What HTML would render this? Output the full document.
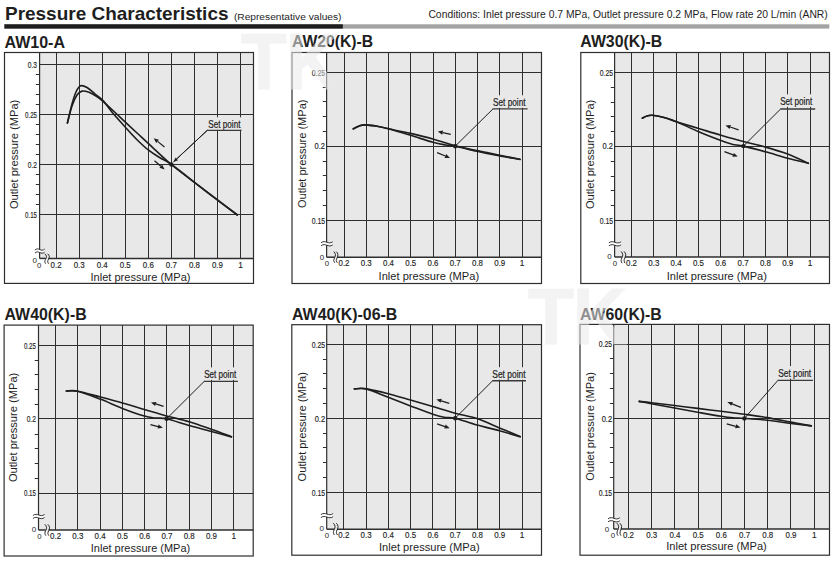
<!DOCTYPE html>
<html><head><meta charset="utf-8"><title>Pressure Characteristics</title>
<style>html,body{margin:0;padding:0;background:#fff;}svg{display:block;}text{font-family:"Liberation Sans", sans-serif;}</style>
</head><body>
<svg width="834" height="561" viewBox="0 0 834 561">
<text x="5" y="19.8" font-size="19" font-weight="bold" fill="#1e1e1e" textLength="223.5" lengthAdjust="spacingAndGlyphs">Pressure Characteristics</text>
<text x="233.9" y="19.8" font-size="9.7" fill="#1e1e1e" textLength="107.6" lengthAdjust="spacingAndGlyphs">(Representative values)</text>
<text x="428.4" y="17.7" font-size="10.35" fill="#1e1e1e" textLength="399.4" lengthAdjust="spacingAndGlyphs">Conditions: Inlet pressure 0.7 MPa, Outlet pressure 0.2 MPa, Flow rate 20 L/min (ANR)</text>
<rect x="342.9" y="24.3" width="486.4" height="4.3" fill="#a3a3a3"/>
<rect x="4.3" y="24.2" width="338.6" height="4.5" fill="#1e1e1e"/>
<text x="4.5" y="47.8" font-size="16" font-weight="bold" fill="#1e1e1e" textLength="60.5" lengthAdjust="spacingAndGlyphs">AW10-A</text>
<rect x="39.6" y="52.5" width="213.9" height="205.9" fill="#e8e8e8"/>
<line x1="56.5" y1="52.5" x2="56.5" y2="258.4" stroke="#2e2e2e" stroke-width="1.05"/>
<line x1="79.5" y1="52.5" x2="79.5" y2="258.4" stroke="#2e2e2e" stroke-width="1.05"/>
<line x1="102.5" y1="52.5" x2="102.5" y2="258.4" stroke="#2e2e2e" stroke-width="1.05"/>
<line x1="125.5" y1="52.5" x2="125.5" y2="258.4" stroke="#2e2e2e" stroke-width="1.05"/>
<line x1="148.5" y1="52.5" x2="148.5" y2="258.4" stroke="#2e2e2e" stroke-width="1.05"/>
<line x1="171.5" y1="52.5" x2="171.5" y2="258.4" stroke="#2e2e2e" stroke-width="1.05"/>
<line x1="194.5" y1="52.5" x2="194.5" y2="258.4" stroke="#2e2e2e" stroke-width="1.05"/>
<line x1="217.5" y1="52.5" x2="217.5" y2="258.4" stroke="#2e2e2e" stroke-width="1.05"/>
<line x1="240.5" y1="52.5" x2="240.5" y2="258.4" stroke="#2e2e2e" stroke-width="1.05"/>
<line x1="39.6" y1="214.5" x2="253.5" y2="214.5" stroke="#2e2e2e" stroke-width="1.05"/>
<line x1="39.6" y1="164.5" x2="253.5" y2="164.5" stroke="#2e2e2e" stroke-width="1.05"/>
<line x1="39.6" y1="114.5" x2="253.5" y2="114.5" stroke="#2e2e2e" stroke-width="1.05"/>
<line x1="39.6" y1="64.5" x2="253.5" y2="64.5" stroke="#2e2e2e" stroke-width="1.05"/>
<line x1="35.8" y1="204.5" x2="39.6" y2="204.5" stroke="#2e2e2e" stroke-width="1"/>
<line x1="35.8" y1="194.5" x2="39.6" y2="194.5" stroke="#2e2e2e" stroke-width="1"/>
<line x1="35.8" y1="184.5" x2="39.6" y2="184.5" stroke="#2e2e2e" stroke-width="1"/>
<line x1="35.8" y1="174.5" x2="39.6" y2="174.5" stroke="#2e2e2e" stroke-width="1"/>
<line x1="35.8" y1="154.5" x2="39.6" y2="154.5" stroke="#2e2e2e" stroke-width="1"/>
<line x1="35.8" y1="144.5" x2="39.6" y2="144.5" stroke="#2e2e2e" stroke-width="1"/>
<line x1="35.8" y1="134.5" x2="39.6" y2="134.5" stroke="#2e2e2e" stroke-width="1"/>
<line x1="35.8" y1="124.5" x2="39.6" y2="124.5" stroke="#2e2e2e" stroke-width="1"/>
<line x1="35.8" y1="104.5" x2="39.6" y2="104.5" stroke="#2e2e2e" stroke-width="1"/>
<line x1="35.8" y1="94.5" x2="39.6" y2="94.5" stroke="#2e2e2e" stroke-width="1"/>
<line x1="35.8" y1="84.5" x2="39.6" y2="84.5" stroke="#2e2e2e" stroke-width="1"/>
<line x1="35.8" y1="74.5" x2="39.6" y2="74.5" stroke="#2e2e2e" stroke-width="1"/>
<text x="25" y="217.9" font-size="8.2" fill="#1e1e1e" stroke="#1e1e1e" stroke-width="0.15" textLength="12" lengthAdjust="spacingAndGlyphs">0.15</text>
<text x="27.8" y="167.7" font-size="8.2" fill="#1e1e1e" stroke="#1e1e1e" stroke-width="0.15" textLength="9.2" lengthAdjust="spacingAndGlyphs">0.2</text>
<text x="25" y="117.7" font-size="8.2" fill="#1e1e1e" stroke="#1e1e1e" stroke-width="0.15" textLength="12" lengthAdjust="spacingAndGlyphs">0.25</text>
<text x="27.8" y="67.8" font-size="8.2" fill="#1e1e1e" stroke="#1e1e1e" stroke-width="0.15" textLength="9.2" lengthAdjust="spacingAndGlyphs">0.3</text>
<line x1="39.6" y1="52.5" x2="39.6" y2="249.55" stroke="#2e2e2e" stroke-width="1.2"/>
<line x1="39.6" y1="252.55" x2="39.6" y2="258.4" stroke="#2e2e2e" stroke-width="1.2"/>
<rect x="34.9" y="249.85" width="9.8" height="2.4" fill="#fff"/>
<path d="M34.9,250.05 C36.86,248.25 38.33,248.95 39.8,249.55 S42.74,250.85 44.7,249.05" fill="none" stroke="#1e1e1e" stroke-width="0.9"/>
<path d="M34.9,253.05 C36.86,251.25 38.33,251.95 39.8,252.55 S42.74,253.85 44.7,252.05" fill="none" stroke="#1e1e1e" stroke-width="0.9"/>
<line x1="39.6" y1="258.4" x2="45.6" y2="258.4" stroke="#2e2e2e" stroke-width="1.5"/>
<line x1="48.5" y1="258.4" x2="253.5" y2="258.4" stroke="#2e2e2e" stroke-width="1.5"/>
<rect x="46.2" y="257.4" width="1.7" height="2" fill="#e8e8e8"/>
<path d="M44.7,253.8 C46.9,255.53 46.8,257.26 45.6,259.25 S44.6,262.21 45.8,263.7" fill="none" stroke="#1e1e1e" stroke-width="0.95"/>
<path d="M47.6,253.8 C49.8,255.53 49.7,257.26 48.5,259.25 S47.5,262.21 48.7,263.7" fill="none" stroke="#1e1e1e" stroke-width="0.95"/>
<text x="34.7" y="262.8" font-size="8" text-anchor="middle" fill="#1e1e1e">0</text>
<text x="39.1" y="267.7" font-size="7.8" text-anchor="middle" fill="#1e1e1e">0</text>
<text x="50.6" y="267.8" font-size="8.3" fill="#1e1e1e" stroke="#1e1e1e" stroke-width="0.15" textLength="11" lengthAdjust="spacingAndGlyphs">0.2</text>
<text x="73.65" y="267.8" font-size="8.3" fill="#1e1e1e" stroke="#1e1e1e" stroke-width="0.15" textLength="11" lengthAdjust="spacingAndGlyphs">0.3</text>
<text x="96.7" y="267.8" font-size="8.3" fill="#1e1e1e" stroke="#1e1e1e" stroke-width="0.15" textLength="11" lengthAdjust="spacingAndGlyphs">0.4</text>
<text x="119.75" y="267.8" font-size="8.3" fill="#1e1e1e" stroke="#1e1e1e" stroke-width="0.15" textLength="11" lengthAdjust="spacingAndGlyphs">0.5</text>
<text x="142.8" y="267.8" font-size="8.3" fill="#1e1e1e" stroke="#1e1e1e" stroke-width="0.15" textLength="11" lengthAdjust="spacingAndGlyphs">0.6</text>
<text x="165.85" y="267.8" font-size="8.3" fill="#1e1e1e" stroke="#1e1e1e" stroke-width="0.15" textLength="11" lengthAdjust="spacingAndGlyphs">0.7</text>
<text x="188.9" y="267.8" font-size="8.3" fill="#1e1e1e" stroke="#1e1e1e" stroke-width="0.15" textLength="11" lengthAdjust="spacingAndGlyphs">0.8</text>
<text x="211.95" y="267.8" font-size="8.3" fill="#1e1e1e" stroke="#1e1e1e" stroke-width="0.15" textLength="11" lengthAdjust="spacingAndGlyphs">0.9</text>
<text x="240.5" y="267.8" font-size="8.3" text-anchor="middle" fill="#1e1e1e" stroke="#1e1e1e" stroke-width="0.15">1</text>
<text x="90.5" y="280.8" font-size="10.6" fill="#1e1e1e" textLength="100" lengthAdjust="spacingAndGlyphs">Inlet pressure (MPa)</text>
<text transform="translate(17.6,154.4) rotate(-90)" x="0" y="0" font-size="10.6" text-anchor="middle" fill="#1e1e1e" textLength="109.4" lengthAdjust="spacingAndGlyphs">Outlet pressure (MPa)</text>
<rect x="4.5" y="52.5" width="249" height="230.9" fill="none" stroke="#2e2e2e" stroke-width="1.2"/>
<rect x="207" y="117.3" width="34.7" height="12.5" fill="#e8e8e8"/>
<text x="208.2" y="127.8" font-size="10.6" fill="#1e1e1e" stroke="#1e1e1e" stroke-width="0.22" textLength="32.3" lengthAdjust="spacingAndGlyphs">Set point</text>
<line x1="173.4" y1="162" x2="207.2" y2="130.4" stroke="#1e1e1e" stroke-width="1"/>
<line x1="206.9" y1="130.4" x2="241.5" y2="130.4" stroke="#3a3a3a" stroke-width="1.4"/>
<line x1="207.2" y1="130.4" x2="176.76" y2="158.86" stroke="#1e1e1e" stroke-width="1.0"/><path d="M173.4,162 L175.53,157.54 L177.99,160.17Z" fill="#1e1e1e"/>
<path d="M67.4,123 C68.17,119.83 70.57,109.17 72,104 C73.43,98.83 74.57,95.03 76,92 C77.43,88.97 78.77,86.55 80.6,85.8 C82.43,85.05 84.6,86.13 87,87.5 C89.4,88.87 92.33,91.82 95,94 C97.67,96.18 99.97,97.33 103,100.6 C106.03,103.87 109.62,109.32 113.2,113.6 C116.78,117.88 120.62,122.03 124.5,126.3 C128.38,130.57 132.48,135.22 136.5,139.2 C140.52,143.18 144.68,147.1 148.6,150.2 C152.52,153.3 156.2,155.42 160,157.8 C163.8,160.18 164.07,159.2 171.4,164.5 C178.73,169.8 193.02,181.18 204,189.6 C214.98,198.02 231.75,210.77 237.3,215" fill="none" stroke="#1e1e1e" stroke-width="1.6" stroke-linejoin="round" stroke-linecap="round"/>
<path d="M67.4,123 C68.17,120.17 70.4,110.67 72,106 C73.6,101.33 75.33,97.48 77,95 C78.67,92.52 80,91.55 82,91.1 C84,90.65 86.67,91.48 89,92.3 C91.33,93.12 93.67,94.5 96,96 C98.33,97.5 99,97.78 103,101.3 C107,104.82 114.33,111.82 120,117.1 C125.67,122.38 131.33,127.72 137,133 C142.67,138.28 148.27,143.55 154,148.8 C159.73,154.05 163.07,157.65 171.4,164.5 C179.73,171.35 193.02,181.48 204,189.9 C214.98,198.32 231.75,210.82 237.3,215" fill="none" stroke="#1e1e1e" stroke-width="1.6" stroke-linejoin="round" stroke-linecap="round"/>
<circle cx="171.3" cy="164.4" r="2.2" fill="#1e1e1e"/>
<line x1="164.5" y1="147.1" x2="157.56" y2="141.38" stroke="#1e1e1e" stroke-width="1.25"/><path d="M153.7,138.2 L158.89,139.76 L156.22,143Z" fill="#1e1e1e"/>
<line x1="154.5" y1="160.7" x2="160.85" y2="166.29" stroke="#1e1e1e" stroke-width="1.25"/><path d="M164.6,169.6 L159.46,167.87 L162.24,164.72Z" fill="#1e1e1e"/>
<text x="292" y="47.3" font-size="16" font-weight="bold" fill="#1e1e1e" textLength="81.1" lengthAdjust="spacingAndGlyphs">AW20(K)-B</text>
<rect x="326.6" y="52.5" width="214.9" height="204.7" fill="#e8e8e8"/>
<line x1="344.5" y1="52.5" x2="344.5" y2="257.2" stroke="#2e2e2e" stroke-width="1.05"/>
<line x1="366.5" y1="52.5" x2="366.5" y2="257.2" stroke="#2e2e2e" stroke-width="1.05"/>
<line x1="388.5" y1="52.5" x2="388.5" y2="257.2" stroke="#2e2e2e" stroke-width="1.05"/>
<line x1="410.5" y1="52.5" x2="410.5" y2="257.2" stroke="#2e2e2e" stroke-width="1.05"/>
<line x1="433.5" y1="52.5" x2="433.5" y2="257.2" stroke="#2e2e2e" stroke-width="1.05"/>
<line x1="455.5" y1="52.5" x2="455.5" y2="257.2" stroke="#2e2e2e" stroke-width="1.05"/>
<line x1="477.5" y1="52.5" x2="477.5" y2="257.2" stroke="#2e2e2e" stroke-width="1.05"/>
<line x1="499.5" y1="52.5" x2="499.5" y2="257.2" stroke="#2e2e2e" stroke-width="1.05"/>
<line x1="522.5" y1="52.5" x2="522.5" y2="257.2" stroke="#2e2e2e" stroke-width="1.05"/>
<line x1="326.6" y1="220.5" x2="541.5" y2="220.5" stroke="#2e2e2e" stroke-width="1.05"/>
<line x1="326.6" y1="146.5" x2="541.5" y2="146.5" stroke="#2e2e2e" stroke-width="1.05"/>
<line x1="326.6" y1="72.5" x2="541.5" y2="72.5" stroke="#2e2e2e" stroke-width="1.05"/>
<line x1="322.8" y1="205.5" x2="326.6" y2="205.5" stroke="#2e2e2e" stroke-width="1"/>
<line x1="322.8" y1="190.5" x2="326.6" y2="190.5" stroke="#2e2e2e" stroke-width="1"/>
<line x1="322.8" y1="175.5" x2="326.6" y2="175.5" stroke="#2e2e2e" stroke-width="1"/>
<line x1="322.8" y1="161.5" x2="326.6" y2="161.5" stroke="#2e2e2e" stroke-width="1"/>
<line x1="322.8" y1="131.5" x2="326.6" y2="131.5" stroke="#2e2e2e" stroke-width="1"/>
<line x1="322.8" y1="116.5" x2="326.6" y2="116.5" stroke="#2e2e2e" stroke-width="1"/>
<line x1="322.8" y1="101.5" x2="326.6" y2="101.5" stroke="#2e2e2e" stroke-width="1"/>
<line x1="322.8" y1="87.5" x2="326.6" y2="87.5" stroke="#2e2e2e" stroke-width="1"/>
<text x="311.7" y="223.5" font-size="8.2" fill="#1e1e1e" stroke="#1e1e1e" stroke-width="0.15" textLength="13.3" lengthAdjust="spacingAndGlyphs">0.15</text>
<text x="314.6" y="149.4" font-size="8.2" fill="#1e1e1e" stroke="#1e1e1e" stroke-width="0.15" textLength="10.4" lengthAdjust="spacingAndGlyphs">0.2</text>
<text x="311.7" y="75.6" font-size="8.2" fill="#1e1e1e" stroke="#1e1e1e" stroke-width="0.15" textLength="13.3" lengthAdjust="spacingAndGlyphs">0.25</text>
<line x1="326.6" y1="52.5" x2="326.6" y2="242.25" stroke="#2e2e2e" stroke-width="1.2"/>
<line x1="326.6" y1="245.25" x2="326.6" y2="257.2" stroke="#2e2e2e" stroke-width="1.2"/>
<rect x="321.1" y="242.55" width="11.7" height="2.4" fill="#fff"/>
<path d="M321.1,242.75 C323.44,240.95 325.19,241.65 326.95,242.25 S330.46,243.55 332.8,241.75" fill="none" stroke="#1e1e1e" stroke-width="0.9"/>
<path d="M321.1,245.75 C323.44,243.95 325.19,244.65 326.95,245.25 S330.46,246.55 332.8,244.75" fill="none" stroke="#1e1e1e" stroke-width="0.9"/>
<line x1="326.6" y1="257.2" x2="334.6" y2="257.2" stroke="#2e2e2e" stroke-width="1.5"/>
<line x1="337.1" y1="257.2" x2="541.5" y2="257.2" stroke="#2e2e2e" stroke-width="1.5"/>
<rect x="335.2" y="256.2" width="1.3" height="2" fill="#e8e8e8"/>
<path d="M333.7,251.6 C335.9,253.56 335.8,255.52 334.6,257.76 S333.6,261.12 334.8,262.8" fill="none" stroke="#1e1e1e" stroke-width="0.95"/>
<path d="M336.2,251.6 C338.4,253.56 338.3,255.52 337.1,257.76 S336.1,261.12 337.3,262.8" fill="none" stroke="#1e1e1e" stroke-width="0.95"/>
<text x="321.9" y="259.7" font-size="8" text-anchor="middle" fill="#1e1e1e">0</text>
<text x="326.9" y="265.6" font-size="7.8" text-anchor="middle" fill="#1e1e1e">0</text>
<text x="338.5" y="265.6" font-size="8.3" fill="#1e1e1e" stroke="#1e1e1e" stroke-width="0.15" textLength="11" lengthAdjust="spacingAndGlyphs">0.2</text>
<text x="360.75" y="265.6" font-size="8.3" fill="#1e1e1e" stroke="#1e1e1e" stroke-width="0.15" textLength="11" lengthAdjust="spacingAndGlyphs">0.3</text>
<text x="383" y="265.6" font-size="8.3" fill="#1e1e1e" stroke="#1e1e1e" stroke-width="0.15" textLength="11" lengthAdjust="spacingAndGlyphs">0.4</text>
<text x="405.25" y="265.6" font-size="8.3" fill="#1e1e1e" stroke="#1e1e1e" stroke-width="0.15" textLength="11" lengthAdjust="spacingAndGlyphs">0.5</text>
<text x="427.5" y="265.6" font-size="8.3" fill="#1e1e1e" stroke="#1e1e1e" stroke-width="0.15" textLength="11" lengthAdjust="spacingAndGlyphs">0.6</text>
<text x="449.75" y="265.6" font-size="8.3" fill="#1e1e1e" stroke="#1e1e1e" stroke-width="0.15" textLength="11" lengthAdjust="spacingAndGlyphs">0.7</text>
<text x="472" y="265.6" font-size="8.3" fill="#1e1e1e" stroke="#1e1e1e" stroke-width="0.15" textLength="11" lengthAdjust="spacingAndGlyphs">0.8</text>
<text x="494.25" y="265.6" font-size="8.3" fill="#1e1e1e" stroke="#1e1e1e" stroke-width="0.15" textLength="11" lengthAdjust="spacingAndGlyphs">0.9</text>
<text x="522" y="265.6" font-size="8.3" text-anchor="middle" fill="#1e1e1e" stroke="#1e1e1e" stroke-width="0.15">1</text>
<text x="378.6" y="279.5" font-size="10.6" fill="#1e1e1e" textLength="100.5" lengthAdjust="spacingAndGlyphs">Inlet pressure (MPa)</text>
<text transform="translate(306,153.8) rotate(-90)" x="0" y="0" font-size="10.6" text-anchor="middle" fill="#1e1e1e" textLength="108.6" lengthAdjust="spacingAndGlyphs">Outlet pressure (MPa)</text>
<rect x="292" y="52.5" width="249.5" height="231" fill="none" stroke="#2e2e2e" stroke-width="1.2"/>
<rect x="491.8" y="95.3" width="35" height="12.5" fill="#e8e8e8"/>
<text x="493" y="105.8" font-size="10.6" fill="#1e1e1e" stroke="#1e1e1e" stroke-width="0.22" textLength="32.6" lengthAdjust="spacingAndGlyphs">Set point</text>
<line x1="455.2" y1="146.2" x2="493" y2="108.9" stroke="#1e1e1e" stroke-width="1"/>
<line x1="492.7" y1="108.9" x2="527.6" y2="108.9" stroke="#3a3a3a" stroke-width="1.4"/>
<path d="M353.2,128.9 C354.23,128.4 357.35,126.57 359.4,125.9 C361.45,125.23 362.57,124.83 365.5,124.9 C368.43,124.97 373.17,125.65 377,126.3 C380.83,126.95 382.92,127.62 388.5,128.8 C394.08,129.98 403.12,131.72 410.5,133.4 C417.88,135.08 425.35,136.85 432.8,138.9 C440.25,140.95 446.17,143.42 455.2,145.7 C464.23,147.98 476.2,150.33 487,152.6 C497.8,154.87 514.5,158.18 520,159.3" fill="none" stroke="#1e1e1e" stroke-width="1.6" stroke-linejoin="round" stroke-linecap="round"/>
<path d="M353.2,128.9 C354.23,128.4 357.35,126.57 359.4,125.9 C361.45,125.23 362.57,124.83 365.5,124.9 C368.43,124.97 373.17,125.65 377,126.3 C380.83,126.95 382.92,127.3 388.5,128.8 C394.08,130.3 403.12,133.05 410.5,135.3 C417.88,137.55 426.93,140.68 432.8,142.3 C438.67,143.92 441.97,144.33 445.7,145 C449.43,145.67 448.32,144.9 455.2,146.3 C462.08,147.7 476.2,151.2 487,153.4 C497.8,155.6 514.5,158.48 520,159.5" fill="none" stroke="#1e1e1e" stroke-width="1.6" stroke-linejoin="round" stroke-linecap="round"/>
<circle cx="455.2" cy="146.2" r="2.2" fill="#1e1e1e"/>
<line x1="450.8" y1="134.4" x2="442.68" y2="132.59" stroke="#1e1e1e" stroke-width="1.25"/><path d="M437.8,131.5 L443.14,130.54 L442.22,134.64Z" fill="#1e1e1e"/>
<line x1="437.1" y1="152.7" x2="445.36" y2="156.03" stroke="#1e1e1e" stroke-width="1.25"/><path d="M450,157.9 L444.58,157.98 L446.15,154.08Z" fill="#1e1e1e"/>
<text x="580.3" y="47.4" font-size="16" font-weight="bold" fill="#1e1e1e" textLength="82" lengthAdjust="spacingAndGlyphs">AW30(K)-B</text>
<rect x="614.6" y="52.5" width="214.9" height="204.5" fill="#e8e8e8"/>
<line x1="631.5" y1="52.5" x2="631.5" y2="257" stroke="#2e2e2e" stroke-width="1.05"/>
<line x1="653.5" y1="52.5" x2="653.5" y2="257" stroke="#2e2e2e" stroke-width="1.05"/>
<line x1="676.5" y1="52.5" x2="676.5" y2="257" stroke="#2e2e2e" stroke-width="1.05"/>
<line x1="698.5" y1="52.5" x2="698.5" y2="257" stroke="#2e2e2e" stroke-width="1.05"/>
<line x1="720.5" y1="52.5" x2="720.5" y2="257" stroke="#2e2e2e" stroke-width="1.05"/>
<line x1="743.5" y1="52.5" x2="743.5" y2="257" stroke="#2e2e2e" stroke-width="1.05"/>
<line x1="765.5" y1="52.5" x2="765.5" y2="257" stroke="#2e2e2e" stroke-width="1.05"/>
<line x1="787.5" y1="52.5" x2="787.5" y2="257" stroke="#2e2e2e" stroke-width="1.05"/>
<line x1="810.5" y1="52.5" x2="810.5" y2="257" stroke="#2e2e2e" stroke-width="1.05"/>
<line x1="614.6" y1="220.5" x2="829.5" y2="220.5" stroke="#2e2e2e" stroke-width="1.05"/>
<line x1="614.6" y1="146.5" x2="829.5" y2="146.5" stroke="#2e2e2e" stroke-width="1.05"/>
<line x1="614.6" y1="72.5" x2="829.5" y2="72.5" stroke="#2e2e2e" stroke-width="1.05"/>
<line x1="610.8" y1="205.5" x2="614.6" y2="205.5" stroke="#2e2e2e" stroke-width="1"/>
<line x1="610.8" y1="190.5" x2="614.6" y2="190.5" stroke="#2e2e2e" stroke-width="1"/>
<line x1="610.8" y1="176.5" x2="614.6" y2="176.5" stroke="#2e2e2e" stroke-width="1"/>
<line x1="610.8" y1="161.5" x2="614.6" y2="161.5" stroke="#2e2e2e" stroke-width="1"/>
<line x1="610.8" y1="131.5" x2="614.6" y2="131.5" stroke="#2e2e2e" stroke-width="1"/>
<line x1="610.8" y1="116.5" x2="614.6" y2="116.5" stroke="#2e2e2e" stroke-width="1"/>
<line x1="610.8" y1="102.5" x2="614.6" y2="102.5" stroke="#2e2e2e" stroke-width="1"/>
<line x1="610.8" y1="87.5" x2="614.6" y2="87.5" stroke="#2e2e2e" stroke-width="1"/>
<text x="599.7" y="223.7" font-size="8.2" fill="#1e1e1e" stroke="#1e1e1e" stroke-width="0.15" textLength="13.3" lengthAdjust="spacingAndGlyphs">0.15</text>
<text x="602.6" y="149.3" font-size="8.2" fill="#1e1e1e" stroke="#1e1e1e" stroke-width="0.15" textLength="10.4" lengthAdjust="spacingAndGlyphs">0.2</text>
<text x="599.7" y="75.7" font-size="8.2" fill="#1e1e1e" stroke="#1e1e1e" stroke-width="0.15" textLength="13.3" lengthAdjust="spacingAndGlyphs">0.25</text>
<line x1="614.6" y1="52.5" x2="614.6" y2="242.3" stroke="#2e2e2e" stroke-width="1.2"/>
<line x1="614.6" y1="245.3" x2="614.6" y2="257" stroke="#2e2e2e" stroke-width="1.2"/>
<rect x="608.9" y="242.6" width="12.2" height="2.4" fill="#fff"/>
<path d="M608.9,242.8 C611.34,241 613.17,241.7 615,242.3 S618.66,243.6 621.1,241.8" fill="none" stroke="#1e1e1e" stroke-width="0.9"/>
<path d="M608.9,245.8 C611.34,244 613.17,244.7 615,245.3 S618.66,246.6 621.1,244.8" fill="none" stroke="#1e1e1e" stroke-width="0.9"/>
<line x1="614.6" y1="257" x2="621.9" y2="257" stroke="#2e2e2e" stroke-width="1.5"/>
<line x1="624.9" y1="257" x2="829.5" y2="257" stroke="#2e2e2e" stroke-width="1.5"/>
<rect x="622.5" y="256" width="1.8" height="2" fill="#e8e8e8"/>
<path d="M621,251.4 C623.2,253.47 623.1,255.53 621.9,257.89 S620.9,261.43 622.1,263.2" fill="none" stroke="#1e1e1e" stroke-width="0.95"/>
<path d="M624,251.4 C626.2,253.47 626.1,255.53 624.9,257.89 S623.9,261.43 625.1,263.2" fill="none" stroke="#1e1e1e" stroke-width="0.95"/>
<text x="609.6" y="259.3" font-size="8" text-anchor="middle" fill="#1e1e1e">0</text>
<text x="615" y="265.7" font-size="7.8" text-anchor="middle" fill="#1e1e1e">0</text>
<text x="626" y="265.7" font-size="8.3" fill="#1e1e1e" stroke="#1e1e1e" stroke-width="0.15" textLength="11" lengthAdjust="spacingAndGlyphs">0.2</text>
<text x="648.31" y="265.7" font-size="8.3" fill="#1e1e1e" stroke="#1e1e1e" stroke-width="0.15" textLength="11" lengthAdjust="spacingAndGlyphs">0.3</text>
<text x="670.62" y="265.7" font-size="8.3" fill="#1e1e1e" stroke="#1e1e1e" stroke-width="0.15" textLength="11" lengthAdjust="spacingAndGlyphs">0.4</text>
<text x="692.94" y="265.7" font-size="8.3" fill="#1e1e1e" stroke="#1e1e1e" stroke-width="0.15" textLength="11" lengthAdjust="spacingAndGlyphs">0.5</text>
<text x="715.25" y="265.7" font-size="8.3" fill="#1e1e1e" stroke="#1e1e1e" stroke-width="0.15" textLength="11" lengthAdjust="spacingAndGlyphs">0.6</text>
<text x="737.56" y="265.7" font-size="8.3" fill="#1e1e1e" stroke="#1e1e1e" stroke-width="0.15" textLength="11" lengthAdjust="spacingAndGlyphs">0.7</text>
<text x="759.88" y="265.7" font-size="8.3" fill="#1e1e1e" stroke="#1e1e1e" stroke-width="0.15" textLength="11" lengthAdjust="spacingAndGlyphs">0.8</text>
<text x="782.19" y="265.7" font-size="8.3" fill="#1e1e1e" stroke="#1e1e1e" stroke-width="0.15" textLength="11" lengthAdjust="spacingAndGlyphs">0.9</text>
<text x="810" y="265.7" font-size="8.3" text-anchor="middle" fill="#1e1e1e" stroke="#1e1e1e" stroke-width="0.15">1</text>
<text x="666.8" y="279.5" font-size="10.6" fill="#1e1e1e" textLength="100.1" lengthAdjust="spacingAndGlyphs">Inlet pressure (MPa)</text>
<text transform="translate(594.3,154.4) rotate(-90)" x="0" y="0" font-size="10.6" text-anchor="middle" fill="#1e1e1e" textLength="109.4" lengthAdjust="spacingAndGlyphs">Outlet pressure (MPa)</text>
<rect x="580.8" y="52.5" width="248.7" height="231" fill="none" stroke="#2e2e2e" stroke-width="1.2"/>
<rect x="779" y="94.3" width="34.4" height="12.5" fill="#e8e8e8"/>
<text x="780.2" y="104.8" font-size="10.6" fill="#1e1e1e" stroke="#1e1e1e" stroke-width="0.22" textLength="32" lengthAdjust="spacingAndGlyphs">Set point</text>
<line x1="743.4" y1="146.1" x2="780.6" y2="109" stroke="#1e1e1e" stroke-width="1"/>
<line x1="780.3" y1="109" x2="815.2" y2="109" stroke="#3a3a3a" stroke-width="1.4"/>
<path d="M642.3,118.2 C643.08,117.83 645.35,116.48 647,116 C648.65,115.52 649.37,115.03 652.2,115.3 C655.03,115.57 659.87,116.5 664,117.6 C668.13,118.7 671.22,120.08 677,121.9 C682.78,123.72 691.37,126.27 698.7,128.5 C706.03,130.73 713.55,133.12 721,135.3 C728.45,137.48 736.27,139.72 743.4,141.6 C750.53,143.48 756.42,144.53 763.8,146.6 C771.18,148.67 780.28,151.22 787.7,154 C795.12,156.78 804.87,161.75 808.3,163.3" fill="none" stroke="#1e1e1e" stroke-width="1.6" stroke-linejoin="round" stroke-linecap="round"/>
<path d="M642.3,118.2 C643.08,117.83 645.35,116.48 647,116 C648.65,115.52 649.37,115.03 652.2,115.3 C655.03,115.57 659.87,116.5 664,117.6 C668.13,118.7 671.22,119.53 677,121.9 C682.78,124.27 691.37,128.68 698.7,131.8 C706.03,134.92 715.45,138.53 721,140.6 C726.55,142.67 728.27,143.28 732,144.2 C735.73,145.12 737.82,144.83 743.4,146.1 C748.98,147.37 758.12,149.78 765.5,151.8 C772.88,153.82 780.57,156.28 787.7,158.2 C794.83,160.12 804.87,162.45 808.3,163.3" fill="none" stroke="#1e1e1e" stroke-width="1.6" stroke-linejoin="round" stroke-linecap="round"/>
<circle cx="743.4" cy="146.1" r="2.2" fill="#1e1e1e"/>
<line x1="738.6" y1="129.9" x2="730.23" y2="127.02" stroke="#1e1e1e" stroke-width="1.25"/><path d="M725.5,125.4 L730.91,125.04 L729.55,129.01Z" fill="#1e1e1e"/>
<line x1="724.4" y1="151.6" x2="733.12" y2="154.85" stroke="#1e1e1e" stroke-width="1.25"/><path d="M737.8,156.6 L732.38,156.82 L733.85,152.88Z" fill="#1e1e1e"/>
<text x="4.5" y="319.7" font-size="16" font-weight="bold" fill="#1e1e1e" textLength="82.2" lengthAdjust="spacingAndGlyphs">AW40(K)-B</text>
<rect x="38.5" y="325.1" width="214.7" height="204.9" fill="#e8e8e8"/>
<line x1="55.5" y1="325.1" x2="55.5" y2="530" stroke="#2e2e2e" stroke-width="1.05"/>
<line x1="77.5" y1="325.1" x2="77.5" y2="530" stroke="#2e2e2e" stroke-width="1.05"/>
<line x1="100.5" y1="325.1" x2="100.5" y2="530" stroke="#2e2e2e" stroke-width="1.05"/>
<line x1="122.5" y1="325.1" x2="122.5" y2="530" stroke="#2e2e2e" stroke-width="1.05"/>
<line x1="144.5" y1="325.1" x2="144.5" y2="530" stroke="#2e2e2e" stroke-width="1.05"/>
<line x1="166.5" y1="325.1" x2="166.5" y2="530" stroke="#2e2e2e" stroke-width="1.05"/>
<line x1="189.5" y1="325.1" x2="189.5" y2="530" stroke="#2e2e2e" stroke-width="1.05"/>
<line x1="211.5" y1="325.1" x2="211.5" y2="530" stroke="#2e2e2e" stroke-width="1.05"/>
<line x1="233.5" y1="325.1" x2="233.5" y2="530" stroke="#2e2e2e" stroke-width="1.05"/>
<line x1="38.5" y1="493.5" x2="253.2" y2="493.5" stroke="#2e2e2e" stroke-width="1.05"/>
<line x1="38.5" y1="418.5" x2="253.2" y2="418.5" stroke="#2e2e2e" stroke-width="1.05"/>
<line x1="38.5" y1="345.5" x2="253.2" y2="345.5" stroke="#2e2e2e" stroke-width="1.05"/>
<line x1="34.7" y1="478.5" x2="38.5" y2="478.5" stroke="#2e2e2e" stroke-width="1"/>
<line x1="34.7" y1="463.5" x2="38.5" y2="463.5" stroke="#2e2e2e" stroke-width="1"/>
<line x1="34.7" y1="448.5" x2="38.5" y2="448.5" stroke="#2e2e2e" stroke-width="1"/>
<line x1="34.7" y1="434.5" x2="38.5" y2="434.5" stroke="#2e2e2e" stroke-width="1"/>
<line x1="34.7" y1="404.5" x2="38.5" y2="404.5" stroke="#2e2e2e" stroke-width="1"/>
<line x1="34.7" y1="389.5" x2="38.5" y2="389.5" stroke="#2e2e2e" stroke-width="1"/>
<line x1="34.7" y1="374.5" x2="38.5" y2="374.5" stroke="#2e2e2e" stroke-width="1"/>
<line x1="34.7" y1="360.5" x2="38.5" y2="360.5" stroke="#2e2e2e" stroke-width="1"/>
<text x="23.9" y="496.3" font-size="8.2" fill="#1e1e1e" stroke="#1e1e1e" stroke-width="0.15" textLength="12" lengthAdjust="spacingAndGlyphs">0.15</text>
<text x="26.7" y="422" font-size="8.2" fill="#1e1e1e" stroke="#1e1e1e" stroke-width="0.15" textLength="9.2" lengthAdjust="spacingAndGlyphs">0.2</text>
<text x="23.9" y="348.6" font-size="8.2" fill="#1e1e1e" stroke="#1e1e1e" stroke-width="0.15" textLength="12" lengthAdjust="spacingAndGlyphs">0.25</text>
<line x1="38.5" y1="325.1" x2="38.5" y2="515" stroke="#2e2e2e" stroke-width="1.2"/>
<line x1="38.5" y1="518" x2="38.5" y2="530" stroke="#2e2e2e" stroke-width="1.2"/>
<rect x="32.9" y="515.3" width="11.7" height="2.4" fill="#fff"/>
<path d="M32.9,515.5 C35.24,513.7 36.99,514.4 38.75,515 S42.26,516.3 44.6,514.5" fill="none" stroke="#1e1e1e" stroke-width="0.9"/>
<path d="M32.9,518.5 C35.24,516.7 36.99,517.4 38.75,518 S42.26,519.3 44.6,517.5" fill="none" stroke="#1e1e1e" stroke-width="0.9"/>
<line x1="38.5" y1="530" x2="45.7" y2="530" stroke="#2e2e2e" stroke-width="1.5"/>
<line x1="48.7" y1="530" x2="253.2" y2="530" stroke="#2e2e2e" stroke-width="1.5"/>
<rect x="46.3" y="529" width="1.8" height="2" fill="#e8e8e8"/>
<path d="M44.8,524.3 C47,526.29 46.9,528.29 45.7,530.57 S44.7,533.99 45.9,535.7" fill="none" stroke="#1e1e1e" stroke-width="0.95"/>
<path d="M47.8,524.3 C50,526.29 49.9,528.29 48.7,530.57 S47.7,533.99 48.9,535.7" fill="none" stroke="#1e1e1e" stroke-width="0.95"/>
<text x="34.1" y="531.8" font-size="8" text-anchor="middle" fill="#1e1e1e">0</text>
<text x="39.3" y="538.6" font-size="7.8" text-anchor="middle" fill="#1e1e1e">0</text>
<text x="50.1" y="538.6" font-size="8.3" fill="#1e1e1e" stroke="#1e1e1e" stroke-width="0.15" textLength="11" lengthAdjust="spacingAndGlyphs">0.2</text>
<text x="72.36" y="538.6" font-size="8.3" fill="#1e1e1e" stroke="#1e1e1e" stroke-width="0.15" textLength="11" lengthAdjust="spacingAndGlyphs">0.3</text>
<text x="94.62" y="538.6" font-size="8.3" fill="#1e1e1e" stroke="#1e1e1e" stroke-width="0.15" textLength="11" lengthAdjust="spacingAndGlyphs">0.4</text>
<text x="116.89" y="538.6" font-size="8.3" fill="#1e1e1e" stroke="#1e1e1e" stroke-width="0.15" textLength="11" lengthAdjust="spacingAndGlyphs">0.5</text>
<text x="139.15" y="538.6" font-size="8.3" fill="#1e1e1e" stroke="#1e1e1e" stroke-width="0.15" textLength="11" lengthAdjust="spacingAndGlyphs">0.6</text>
<text x="161.41" y="538.6" font-size="8.3" fill="#1e1e1e" stroke="#1e1e1e" stroke-width="0.15" textLength="11" lengthAdjust="spacingAndGlyphs">0.7</text>
<text x="183.68" y="538.6" font-size="8.3" fill="#1e1e1e" stroke="#1e1e1e" stroke-width="0.15" textLength="11" lengthAdjust="spacingAndGlyphs">0.8</text>
<text x="205.94" y="538.6" font-size="8.3" fill="#1e1e1e" stroke="#1e1e1e" stroke-width="0.15" textLength="11" lengthAdjust="spacingAndGlyphs">0.9</text>
<text x="233.7" y="538.6" font-size="8.3" text-anchor="middle" fill="#1e1e1e" stroke="#1e1e1e" stroke-width="0.15">1</text>
<text x="90.8" y="551.9" font-size="10.6" fill="#1e1e1e" textLength="99.4" lengthAdjust="spacingAndGlyphs">Inlet pressure (MPa)</text>
<text transform="translate(17.4,427.4) rotate(-90)" x="0" y="0" font-size="10.6" text-anchor="middle" fill="#1e1e1e" textLength="109.4" lengthAdjust="spacingAndGlyphs">Outlet pressure (MPa)</text>
<rect x="4.1" y="325.1" width="249.1" height="230.9" fill="none" stroke="#2e2e2e" stroke-width="1.2"/>
<rect x="203" y="367.4" width="34.4" height="12.5" fill="#e8e8e8"/>
<text x="204.2" y="377.9" font-size="10.6" fill="#1e1e1e" stroke="#1e1e1e" stroke-width="0.22" textLength="32" lengthAdjust="spacingAndGlyphs">Set point</text>
<line x1="166.6" y1="418.8" x2="204.2" y2="381.4" stroke="#1e1e1e" stroke-width="1"/>
<line x1="203.9" y1="381.4" x2="237.9" y2="381.4" stroke="#3a3a3a" stroke-width="1.4"/>
<path d="M66.3,391 C68.22,391.03 72.15,390.2 77.8,391.2 C83.45,392.2 92.77,395.03 100.2,397 C107.63,398.97 115.03,400.93 122.4,403 C129.77,405.07 137.03,407.25 144.4,409.4 C151.77,411.55 159.13,413.85 166.6,415.9 C174.07,417.95 181.75,419.47 189.2,421.7 C196.65,423.93 204.25,426.8 211.3,429.3 C218.35,431.8 228.13,435.47 231.5,436.7" fill="none" stroke="#1e1e1e" stroke-width="1.6" stroke-linejoin="round" stroke-linecap="round"/>
<path d="M66.3,391 C68.22,391.03 72.15,389.85 77.8,391.2 C83.45,392.55 92.77,396.23 100.2,399.1 C107.63,401.97 115.03,405.57 122.4,408.4 C129.77,411.23 138.97,414.5 144.4,416.1 C149.83,417.7 151.3,417.55 155,418 C158.7,418.45 160.9,417.53 166.6,418.8 C172.3,420.07 181.75,423.5 189.2,425.6 C196.65,427.7 204.25,429.52 211.3,431.4 C218.35,433.28 228.13,435.98 231.5,436.9" fill="none" stroke="#1e1e1e" stroke-width="1.6" stroke-linejoin="round" stroke-linecap="round"/>
<circle cx="166.6" cy="418.8" r="2.2" fill="#1e1e1e"/>
<line x1="163.6" y1="406.4" x2="155.77" y2="403.91" stroke="#1e1e1e" stroke-width="1.25"/><path d="M151,402.4 L156.4,401.91 L155.13,405.91Z" fill="#1e1e1e"/>
<line x1="150.4" y1="424.6" x2="158.06" y2="426.56" stroke="#1e1e1e" stroke-width="1.25"/><path d="M162.9,427.8 L157.54,428.59 L158.58,424.53Z" fill="#1e1e1e"/>
<text x="292" y="319.9" font-size="16" font-weight="bold" fill="#1e1e1e" textLength="105.3" lengthAdjust="spacingAndGlyphs">AW40(K)-06-B</text>
<rect x="326.7" y="324.7" width="214.8" height="204.5" fill="#e8e8e8"/>
<line x1="343.5" y1="324.7" x2="343.5" y2="529.2" stroke="#2e2e2e" stroke-width="1.05"/>
<line x1="366.5" y1="324.7" x2="366.5" y2="529.2" stroke="#2e2e2e" stroke-width="1.05"/>
<line x1="388.5" y1="324.7" x2="388.5" y2="529.2" stroke="#2e2e2e" stroke-width="1.05"/>
<line x1="410.5" y1="324.7" x2="410.5" y2="529.2" stroke="#2e2e2e" stroke-width="1.05"/>
<line x1="432.5" y1="324.7" x2="432.5" y2="529.2" stroke="#2e2e2e" stroke-width="1.05"/>
<line x1="455.5" y1="324.7" x2="455.5" y2="529.2" stroke="#2e2e2e" stroke-width="1.05"/>
<line x1="477.5" y1="324.7" x2="477.5" y2="529.2" stroke="#2e2e2e" stroke-width="1.05"/>
<line x1="499.5" y1="324.7" x2="499.5" y2="529.2" stroke="#2e2e2e" stroke-width="1.05"/>
<line x1="522.5" y1="324.7" x2="522.5" y2="529.2" stroke="#2e2e2e" stroke-width="1.05"/>
<line x1="326.7" y1="492.5" x2="541.5" y2="492.5" stroke="#2e2e2e" stroke-width="1.05"/>
<line x1="326.7" y1="418.5" x2="541.5" y2="418.5" stroke="#2e2e2e" stroke-width="1.05"/>
<line x1="326.7" y1="344.5" x2="541.5" y2="344.5" stroke="#2e2e2e" stroke-width="1.05"/>
<line x1="322.9" y1="477.5" x2="326.7" y2="477.5" stroke="#2e2e2e" stroke-width="1"/>
<line x1="322.9" y1="462.5" x2="326.7" y2="462.5" stroke="#2e2e2e" stroke-width="1"/>
<line x1="322.9" y1="447.5" x2="326.7" y2="447.5" stroke="#2e2e2e" stroke-width="1"/>
<line x1="322.9" y1="433.5" x2="326.7" y2="433.5" stroke="#2e2e2e" stroke-width="1"/>
<line x1="322.9" y1="403.5" x2="326.7" y2="403.5" stroke="#2e2e2e" stroke-width="1"/>
<line x1="322.9" y1="388.5" x2="326.7" y2="388.5" stroke="#2e2e2e" stroke-width="1"/>
<line x1="322.9" y1="373.5" x2="326.7" y2="373.5" stroke="#2e2e2e" stroke-width="1"/>
<line x1="322.9" y1="359.5" x2="326.7" y2="359.5" stroke="#2e2e2e" stroke-width="1"/>
<text x="311.8" y="495.5" font-size="8.2" fill="#1e1e1e" stroke="#1e1e1e" stroke-width="0.15" textLength="13.3" lengthAdjust="spacingAndGlyphs">0.15</text>
<text x="314.7" y="421.5" font-size="8.2" fill="#1e1e1e" stroke="#1e1e1e" stroke-width="0.15" textLength="10.4" lengthAdjust="spacingAndGlyphs">0.2</text>
<text x="311.8" y="347.6" font-size="8.2" fill="#1e1e1e" stroke="#1e1e1e" stroke-width="0.15" textLength="13.3" lengthAdjust="spacingAndGlyphs">0.25</text>
<line x1="326.7" y1="324.7" x2="326.7" y2="514.1" stroke="#2e2e2e" stroke-width="1.2"/>
<line x1="326.7" y1="517.1" x2="326.7" y2="529.2" stroke="#2e2e2e" stroke-width="1.2"/>
<rect x="320.9" y="514.4" width="12.2" height="2.4" fill="#fff"/>
<path d="M320.9,514.6 C323.34,512.8 325.17,513.5 327,514.1 S330.66,515.4 333.1,513.6" fill="none" stroke="#1e1e1e" stroke-width="0.9"/>
<path d="M320.9,517.6 C323.34,515.8 325.17,516.5 327,517.1 S330.66,518.4 333.1,516.6" fill="none" stroke="#1e1e1e" stroke-width="0.9"/>
<line x1="326.7" y1="529.2" x2="334.2" y2="529.2" stroke="#2e2e2e" stroke-width="1.5"/>
<line x1="337.2" y1="529.2" x2="541.5" y2="529.2" stroke="#2e2e2e" stroke-width="1.5"/>
<rect x="334.8" y="528.2" width="1.8" height="2" fill="#e8e8e8"/>
<path d="M333.3,523.2 C335.5,525.26 335.4,527.33 334.2,529.69 S333.2,533.23 334.4,535" fill="none" stroke="#1e1e1e" stroke-width="0.95"/>
<path d="M336.3,523.2 C338.5,525.26 338.4,527.33 337.2,529.69 S336.2,533.23 337.4,535" fill="none" stroke="#1e1e1e" stroke-width="0.95"/>
<text x="321.8" y="530.7" font-size="8" text-anchor="middle" fill="#1e1e1e">0</text>
<text x="327" y="537.9" font-size="7.8" text-anchor="middle" fill="#1e1e1e">0</text>
<text x="338.3" y="537.8" font-size="8.3" fill="#1e1e1e" stroke="#1e1e1e" stroke-width="0.15" textLength="11" lengthAdjust="spacingAndGlyphs">0.2</text>
<text x="360.57" y="537.8" font-size="8.3" fill="#1e1e1e" stroke="#1e1e1e" stroke-width="0.15" textLength="11" lengthAdjust="spacingAndGlyphs">0.3</text>
<text x="382.85" y="537.8" font-size="8.3" fill="#1e1e1e" stroke="#1e1e1e" stroke-width="0.15" textLength="11" lengthAdjust="spacingAndGlyphs">0.4</text>
<text x="405.12" y="537.8" font-size="8.3" fill="#1e1e1e" stroke="#1e1e1e" stroke-width="0.15" textLength="11" lengthAdjust="spacingAndGlyphs">0.5</text>
<text x="427.4" y="537.8" font-size="8.3" fill="#1e1e1e" stroke="#1e1e1e" stroke-width="0.15" textLength="11" lengthAdjust="spacingAndGlyphs">0.6</text>
<text x="449.67" y="537.8" font-size="8.3" fill="#1e1e1e" stroke="#1e1e1e" stroke-width="0.15" textLength="11" lengthAdjust="spacingAndGlyphs">0.7</text>
<text x="471.95" y="537.8" font-size="8.3" fill="#1e1e1e" stroke="#1e1e1e" stroke-width="0.15" textLength="11" lengthAdjust="spacingAndGlyphs">0.8</text>
<text x="494.23" y="537.8" font-size="8.3" fill="#1e1e1e" stroke="#1e1e1e" stroke-width="0.15" textLength="11" lengthAdjust="spacingAndGlyphs">0.9</text>
<text x="522" y="537.8" font-size="8.3" text-anchor="middle" fill="#1e1e1e" stroke="#1e1e1e" stroke-width="0.15">1</text>
<text x="379" y="551.1" font-size="10.6" fill="#1e1e1e" textLength="100.6" lengthAdjust="spacingAndGlyphs">Inlet pressure (MPa)</text>
<text transform="translate(306,426.7) rotate(-90)" x="0" y="0" font-size="10.6" text-anchor="middle" fill="#1e1e1e" textLength="109.4" lengthAdjust="spacingAndGlyphs">Outlet pressure (MPa)</text>
<rect x="291.8" y="324.7" width="249.7" height="230.5" fill="none" stroke="#2e2e2e" stroke-width="1.2"/>
<rect x="491.1" y="367.2" width="35.7" height="12.5" fill="#e8e8e8"/>
<text x="492.3" y="377.7" font-size="10.6" fill="#1e1e1e" stroke="#1e1e1e" stroke-width="0.22" textLength="33.3" lengthAdjust="spacingAndGlyphs">Set point</text>
<line x1="455.2" y1="418.2" x2="492.6" y2="380.8" stroke="#1e1e1e" stroke-width="1"/>
<line x1="492.3" y1="380.8" x2="526" y2="380.8" stroke="#3a3a3a" stroke-width="1.4"/>
<path d="M354.4,388.9 C356.38,388.9 360.67,388.1 366.3,388.9 C371.93,389.7 380.83,391.83 388.2,393.7 C395.57,395.57 403.07,397.95 410.5,400.1 C417.93,402.25 425.35,404.42 432.8,406.6 C440.25,408.78 447.83,411.2 455.2,413.2 C462.57,415.2 469.62,416.15 477,418.6 C484.38,421.05 492.32,424.9 499.5,427.9 C506.68,430.9 516.67,435.15 520.1,436.6" fill="none" stroke="#1e1e1e" stroke-width="1.6" stroke-linejoin="round" stroke-linecap="round"/>
<path d="M354.4,388.9 C356.38,388.9 360.67,387.5 366.3,388.9 C371.93,390.3 380.83,394.47 388.2,397.3 C395.57,400.13 403.07,403.07 410.5,405.9 C417.93,408.73 427.22,412.42 432.8,414.3 C438.38,416.18 440.27,416.55 444,417.2 C447.73,417.85 449.7,416.88 455.2,418.2 C460.7,419.52 469.62,423.02 477,425.1 C484.38,427.18 492.32,428.75 499.5,430.7 C506.68,432.65 516.67,435.78 520.1,436.8" fill="none" stroke="#1e1e1e" stroke-width="1.6" stroke-linejoin="round" stroke-linecap="round"/>
<circle cx="455.2" cy="418.2" r="2.2" fill="#1e1e1e"/>
<line x1="449.3" y1="403.3" x2="441.19" y2="400.85" stroke="#1e1e1e" stroke-width="1.25"/><path d="M436.4,399.4 L441.79,398.84 L440.58,402.86Z" fill="#1e1e1e"/>
<line x1="437.1" y1="423.9" x2="444.97" y2="426.59" stroke="#1e1e1e" stroke-width="1.25"/><path d="M449.7,428.2 L444.29,428.57 L445.65,424.6Z" fill="#1e1e1e"/>
<text x="580" y="319.9" font-size="16" font-weight="bold" fill="#1e1e1e" textLength="81.8" lengthAdjust="spacingAndGlyphs">AW60(K)-B</text>
<rect x="613.7" y="324.4" width="215.8" height="204.6" fill="#e8e8e8"/>
<line x1="628.5" y1="324.4" x2="628.5" y2="529" stroke="#2e2e2e" stroke-width="1.05"/>
<line x1="651.5" y1="324.4" x2="651.5" y2="529" stroke="#2e2e2e" stroke-width="1.05"/>
<line x1="674.5" y1="324.4" x2="674.5" y2="529" stroke="#2e2e2e" stroke-width="1.05"/>
<line x1="698.5" y1="324.4" x2="698.5" y2="529" stroke="#2e2e2e" stroke-width="1.05"/>
<line x1="721.5" y1="324.4" x2="721.5" y2="529" stroke="#2e2e2e" stroke-width="1.05"/>
<line x1="744.5" y1="324.4" x2="744.5" y2="529" stroke="#2e2e2e" stroke-width="1.05"/>
<line x1="767.5" y1="324.4" x2="767.5" y2="529" stroke="#2e2e2e" stroke-width="1.05"/>
<line x1="790.5" y1="324.4" x2="790.5" y2="529" stroke="#2e2e2e" stroke-width="1.05"/>
<line x1="814.5" y1="324.4" x2="814.5" y2="529" stroke="#2e2e2e" stroke-width="1.05"/>
<line x1="613.7" y1="492.5" x2="829.5" y2="492.5" stroke="#2e2e2e" stroke-width="1.05"/>
<line x1="613.7" y1="418.5" x2="829.5" y2="418.5" stroke="#2e2e2e" stroke-width="1.05"/>
<line x1="613.7" y1="344.5" x2="829.5" y2="344.5" stroke="#2e2e2e" stroke-width="1.05"/>
<line x1="609.9" y1="477.5" x2="613.7" y2="477.5" stroke="#2e2e2e" stroke-width="1"/>
<line x1="609.9" y1="462.5" x2="613.7" y2="462.5" stroke="#2e2e2e" stroke-width="1"/>
<line x1="609.9" y1="447.5" x2="613.7" y2="447.5" stroke="#2e2e2e" stroke-width="1"/>
<line x1="609.9" y1="433.5" x2="613.7" y2="433.5" stroke="#2e2e2e" stroke-width="1"/>
<line x1="609.9" y1="403.5" x2="613.7" y2="403.5" stroke="#2e2e2e" stroke-width="1"/>
<line x1="609.9" y1="388.5" x2="613.7" y2="388.5" stroke="#2e2e2e" stroke-width="1"/>
<line x1="609.9" y1="373.5" x2="613.7" y2="373.5" stroke="#2e2e2e" stroke-width="1"/>
<line x1="609.9" y1="358.5" x2="613.7" y2="358.5" stroke="#2e2e2e" stroke-width="1"/>
<text x="598.8" y="495.6" font-size="8.2" fill="#1e1e1e" stroke="#1e1e1e" stroke-width="0.15" textLength="13.3" lengthAdjust="spacingAndGlyphs">0.15</text>
<text x="601.7" y="421.7" font-size="8.2" fill="#1e1e1e" stroke="#1e1e1e" stroke-width="0.15" textLength="10.4" lengthAdjust="spacingAndGlyphs">0.2</text>
<text x="598.8" y="347.2" font-size="8.2" fill="#1e1e1e" stroke="#1e1e1e" stroke-width="0.15" textLength="13.3" lengthAdjust="spacingAndGlyphs">0.25</text>
<line x1="613.7" y1="324.4" x2="613.7" y2="518.3" stroke="#2e2e2e" stroke-width="1.2"/>
<line x1="613.7" y1="521.3" x2="613.7" y2="529" stroke="#2e2e2e" stroke-width="1.2"/>
<rect x="608" y="518.6" width="11.8" height="2.4" fill="#fff"/>
<path d="M608,518.8 C610.36,517 612.13,517.7 613.9,518.3 S617.44,519.6 619.8,517.8" fill="none" stroke="#1e1e1e" stroke-width="0.9"/>
<path d="M608,521.8 C610.36,520 612.13,520.7 613.9,521.3 S617.44,522.6 619.8,520.8" fill="none" stroke="#1e1e1e" stroke-width="0.9"/>
<line x1="613.7" y1="529" x2="617.8" y2="529" stroke="#2e2e2e" stroke-width="1.5"/>
<line x1="620.8" y1="529" x2="829.5" y2="529" stroke="#2e2e2e" stroke-width="1.5"/>
<rect x="618.4" y="528" width="1.8" height="2" fill="#e8e8e8"/>
<path d="M616.9,523.2 C619.1,525.39 619,527.58 617.8,530.08 S616.8,533.83 618,535.7" fill="none" stroke="#1e1e1e" stroke-width="0.95"/>
<path d="M619.9,523.2 C622.1,525.39 622,527.58 620.8,530.08 S619.8,533.83 621,535.7" fill="none" stroke="#1e1e1e" stroke-width="0.95"/>
<text x="607" y="531.8" font-size="8" text-anchor="middle" fill="#1e1e1e">0</text>
<text x="613" y="537.9" font-size="7.8" text-anchor="middle" fill="#1e1e1e">0</text>
<text x="623" y="537.6" font-size="8.3" fill="#1e1e1e" stroke="#1e1e1e" stroke-width="0.15" textLength="11" lengthAdjust="spacingAndGlyphs">0.2</text>
<text x="646.21" y="537.6" font-size="8.3" fill="#1e1e1e" stroke="#1e1e1e" stroke-width="0.15" textLength="11" lengthAdjust="spacingAndGlyphs">0.3</text>
<text x="669.42" y="537.6" font-size="8.3" fill="#1e1e1e" stroke="#1e1e1e" stroke-width="0.15" textLength="11" lengthAdjust="spacingAndGlyphs">0.4</text>
<text x="692.64" y="537.6" font-size="8.3" fill="#1e1e1e" stroke="#1e1e1e" stroke-width="0.15" textLength="11" lengthAdjust="spacingAndGlyphs">0.5</text>
<text x="715.85" y="537.6" font-size="8.3" fill="#1e1e1e" stroke="#1e1e1e" stroke-width="0.15" textLength="11" lengthAdjust="spacingAndGlyphs">0.6</text>
<text x="739.06" y="537.6" font-size="8.3" fill="#1e1e1e" stroke="#1e1e1e" stroke-width="0.15" textLength="11" lengthAdjust="spacingAndGlyphs">0.7</text>
<text x="762.28" y="537.6" font-size="8.3" fill="#1e1e1e" stroke="#1e1e1e" stroke-width="0.15" textLength="11" lengthAdjust="spacingAndGlyphs">0.8</text>
<text x="785.49" y="537.6" font-size="8.3" fill="#1e1e1e" stroke="#1e1e1e" stroke-width="0.15" textLength="11" lengthAdjust="spacingAndGlyphs">0.9</text>
<text x="814.2" y="537.6" font-size="8.3" text-anchor="middle" fill="#1e1e1e" stroke="#1e1e1e" stroke-width="0.15">1</text>
<text x="666.2" y="549.8" font-size="10.6" fill="#1e1e1e" textLength="100.6" lengthAdjust="spacingAndGlyphs">Inlet pressure (MPa)</text>
<text transform="translate(594.4,426.4) rotate(-90)" x="0" y="0" font-size="10.6" text-anchor="middle" fill="#1e1e1e" textLength="108.7" lengthAdjust="spacingAndGlyphs">Outlet pressure (MPa)</text>
<rect x="580" y="324.4" width="249.5" height="230.8" fill="none" stroke="#2e2e2e" stroke-width="1.2"/>
<rect x="777" y="366.1" width="35.4" height="12.5" fill="#e8e8e8"/>
<text x="778.2" y="376.6" font-size="10.6" fill="#1e1e1e" stroke="#1e1e1e" stroke-width="0.22" textLength="33" lengthAdjust="spacingAndGlyphs">Set point</text>
<line x1="744.4" y1="418.4" x2="777.9" y2="380.4" stroke="#1e1e1e" stroke-width="1"/>
<line x1="777.6" y1="380.4" x2="812.9" y2="380.4" stroke="#3a3a3a" stroke-width="1.4"/>
<path d="M639.2,401.4 C641.23,401.62 645.5,402.02 651.4,402.7 C657.3,403.38 666.9,404.55 674.6,405.5 C682.3,406.45 689.83,407.43 697.6,408.4 C705.37,409.37 713.4,410.32 721.2,411.3 C729,412.28 736.7,413.25 744.4,414.3 C752.1,415.35 759.65,416.3 767.4,417.6 C775.15,418.9 783.58,420.72 790.9,422.1 C798.22,423.48 807.9,425.27 811.3,425.9" fill="none" stroke="#1e1e1e" stroke-width="1.6" stroke-linejoin="round" stroke-linecap="round"/>
<path d="M639.2,401.4 C641.23,401.8 645.5,402.7 651.4,403.8 C657.3,404.9 666.9,406.6 674.6,408 C682.3,409.4 689.83,410.82 697.6,412.2 C705.37,413.58 715.3,415.37 721.2,416.3 C727.1,417.23 729.13,417.45 733,417.8 C736.87,418.15 738.67,417.98 744.4,418.4 C750.13,418.82 759.65,419.47 767.4,420.3 C775.15,421.13 783.58,422.47 790.9,423.4 C798.22,424.33 807.9,425.48 811.3,425.9" fill="none" stroke="#1e1e1e" stroke-width="1.6" stroke-linejoin="round" stroke-linecap="round"/>
<circle cx="744.4" cy="418.4" r="2.2" fill="#1e1e1e"/>
<line x1="740.9" y1="407.3" x2="732.07" y2="403.9" stroke="#1e1e1e" stroke-width="1.25"/><path d="M727.4,402.1 L732.82,401.94 L731.31,405.86Z" fill="#1e1e1e"/>
<line x1="726.7" y1="423.9" x2="735.67" y2="426.31" stroke="#1e1e1e" stroke-width="1.25"/><path d="M740.5,427.6 L735.13,428.33 L736.21,424.28Z" fill="#1e1e1e"/>
<g transform="translate(0,0)" opacity="0.55"><text transform="translate(240.8,88.7) scale(0.94,1)" font-size="80" font-weight="bold" fill="#eaeaea" stroke="#eaeaea" stroke-width="0.8">T</text><text transform="translate(285.6,88.7) scale(0.94,1)" font-size="80" font-weight="bold" fill="#eaeaea" stroke="#eaeaea" stroke-width="0.8">K</text></g>
<g transform="translate(287.2,255.3)" opacity="0.55"><text transform="translate(240.8,88.7) scale(0.94,1)" font-size="80" font-weight="bold" fill="#eaeaea" stroke="#eaeaea" stroke-width="0.8">T</text><text transform="translate(285.6,88.7) scale(0.94,1)" font-size="80" font-weight="bold" fill="#eaeaea" stroke="#eaeaea" stroke-width="0.8">K</text></g>
</svg>
</body></html>
